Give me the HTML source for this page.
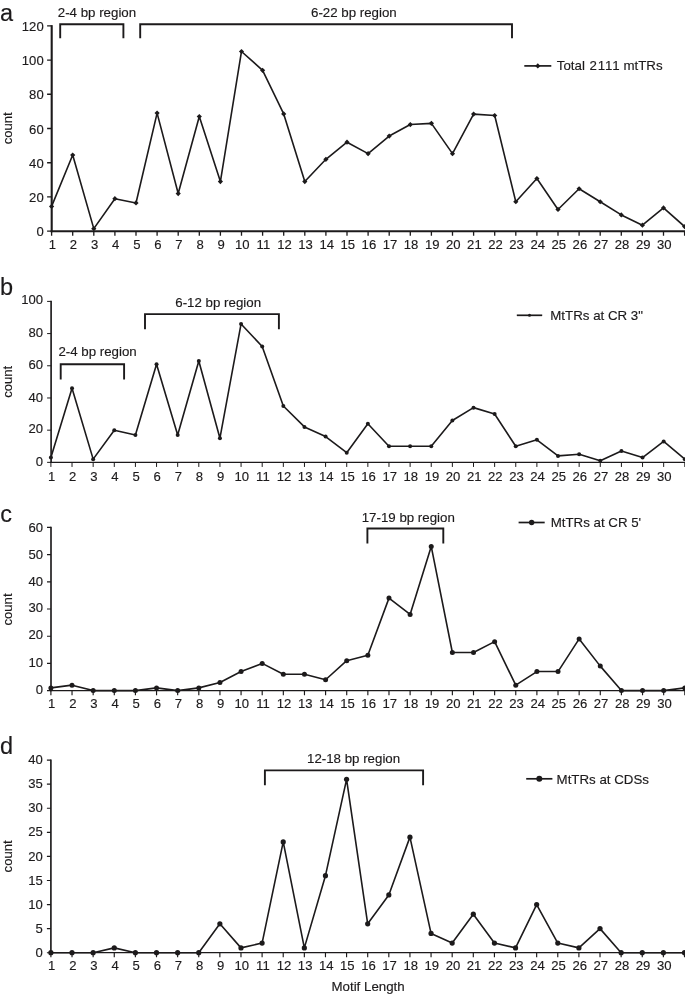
<!DOCTYPE html>
<html><head><meta charset="utf-8"><title>Motif length distribution</title>
<style>
html,body{margin:0;padding:0;background:#fff;}
body{width:685px;height:994px;overflow:hidden;}
svg{display:block;}
svg text{font-family:"Liberation Sans",Arial,Helvetica,sans-serif;font-size:13.3px;fill:#1c1a1b;stroke:#1c1a1b;stroke-width:0.15px;}
svg text.t{font-size:var(--t);}
svg text.x{font-size:13.1px;}
</style></head>
<body>
<svg width="685" height="994" viewBox="0 0 685 994">
<rect width="685" height="994" fill="#fff"/>
<g style="--t:13.1px">
<path d="M51.7 25.15V232.2" fill="none" stroke="#1c1a1b" stroke-width="2.1"/>
<path d="M50.65 231.2H685" fill="none" stroke="#1c1a1b" stroke-width="2.0"/>
<text class="t" x="43.7" y="236.2" text-anchor="end">0</text>
<text class="t" x="43.7" y="201.97" text-anchor="end">20</text>
<text class="t" x="43.7" y="167.73" text-anchor="end">40</text>
<text class="t" x="43.7" y="133.5" text-anchor="end">60</text>
<text class="t" x="43.7" y="99.27" text-anchor="end">80</text>
<text class="t" x="43.7" y="65.03" text-anchor="end">100</text>
<text class="t" x="43.7" y="30.8" text-anchor="end">120</text>
<text x="52.4" y="248.9" class="x" text-anchor="middle">1</text>
<text x="73.5" y="248.9" class="x" text-anchor="middle">2</text>
<text x="94.6" y="248.9" class="x" text-anchor="middle">3</text>
<text x="115.7" y="248.9" class="x" text-anchor="middle">4</text>
<text x="136.8" y="248.9" class="x" text-anchor="middle">5</text>
<text x="157.9" y="248.9" class="x" text-anchor="middle">6</text>
<text x="179" y="248.9" class="x" text-anchor="middle">7</text>
<text x="200.1" y="248.9" class="x" text-anchor="middle">8</text>
<text x="221.2" y="248.9" class="x" text-anchor="middle">9</text>
<text x="242.3" y="248.9" class="x" text-anchor="middle">10</text>
<text x="263.4" y="248.9" class="x" text-anchor="middle">11</text>
<text x="284.5" y="248.9" class="x" text-anchor="middle">12</text>
<text x="305.6" y="248.9" class="x" text-anchor="middle">13</text>
<text x="326.7" y="248.9" class="x" text-anchor="middle">14</text>
<text x="347.8" y="248.9" class="x" text-anchor="middle">15</text>
<text x="368.9" y="248.9" class="x" text-anchor="middle">16</text>
<text x="390" y="248.9" class="x" text-anchor="middle">17</text>
<text x="411.1" y="248.9" class="x" text-anchor="middle">18</text>
<text x="432.2" y="248.9" class="x" text-anchor="middle">19</text>
<text x="453.3" y="248.9" class="x" text-anchor="middle">20</text>
<text x="474.4" y="248.9" class="x" text-anchor="middle">21</text>
<text x="495.5" y="248.9" class="x" text-anchor="middle">22</text>
<text x="516.6" y="248.9" class="x" text-anchor="middle">23</text>
<text x="537.7" y="248.9" class="x" text-anchor="middle">24</text>
<text x="558.8" y="248.9" class="x" text-anchor="middle">25</text>
<text x="579.9" y="248.9" class="x" text-anchor="middle">26</text>
<text x="601" y="248.9" class="x" text-anchor="middle">27</text>
<text x="622.1" y="248.9" class="x" text-anchor="middle">28</text>
<text x="643.2" y="248.9" class="x" text-anchor="middle">29</text>
<text x="664.3" y="248.9" class="x" text-anchor="middle">30</text>
<path d="M47.1 231.2H51.7M47.1 196.97H51.7M47.1 162.73H51.7M47.1 128.5H51.7M47.1 94.27H51.7M47.1 60.03H51.7M47.1 25.8H51.7M51.6 231.2V235.8M72.7 231.2V235.8M93.8 231.2V235.8M114.9 231.2V235.8M136 231.2V235.8M157.1 231.2V235.8M178.2 231.2V235.8M199.3 231.2V235.8M220.4 231.2V235.8M241.5 231.2V235.8M262.6 231.2V235.8M283.7 231.2V235.8M304.8 231.2V235.8M325.9 231.2V235.8M347 231.2V235.8M368.1 231.2V235.8M389.2 231.2V235.8M410.3 231.2V235.8M431.4 231.2V235.8M452.5 231.2V235.8M473.6 231.2V235.8M494.7 231.2V235.8M515.8 231.2V235.8M536.9 231.2V235.8M558 231.2V235.8M579.1 231.2V235.8M600.2 231.2V235.8M621.3 231.2V235.8M642.4 231.2V235.8M663.5 231.2V235.8M684.6 231.2V235.8" fill="none" stroke="#1c1a1b" stroke-width="1.3"/>
<polyline fill="none" stroke="#1c1a1b" stroke-width="1.6" stroke-linejoin="round" points="51.6,206.38 72.7,155.03 93.8,228.63 114.9,198.68 136,202.96 157.1,113.09 178.2,193.54 199.3,116.52 220.4,181.56 241.5,51.48 262.6,70.3 283.7,113.95 304.8,181.56 325.9,159.31 347,142.19 368.1,153.66 389.2,136.03 410.3,124.56 431.4,123.37 452.5,153.66 473.6,114.12 494.7,115.49 515.8,201.76 536.9,178.48 558,209.46 579.1,188.75 600.2,201.76 621.3,214.94 642.4,225.21 663.5,207.92 684.6,226.58"/>
<g fill="#1c1a1b"><path d="M51.6 203.78L54.2 206.38L51.6 208.98L49 206.38Z"/><path d="M72.7 152.43L75.3 155.03L72.7 157.63L70.1 155.03Z"/><path d="M93.8 226.03L96.4 228.63L93.8 231.23L91.2 228.63Z"/><path d="M114.9 196.08L117.5 198.68L114.9 201.28L112.3 198.68Z"/><path d="M136 200.36L138.6 202.96L136 205.56L133.4 202.96Z"/><path d="M157.1 110.5L159.7 113.09L157.1 115.69L154.5 113.09Z"/><path d="M178.2 190.94L180.8 193.54L178.2 196.14L175.6 193.54Z"/><path d="M199.3 113.92L201.9 116.52L199.3 119.12L196.7 116.52Z"/><path d="M220.4 178.96L223 181.56L220.4 184.16L217.8 181.56Z"/><path d="M241.5 48.88L244.1 51.48L241.5 54.08L238.9 51.48Z"/><path d="M262.6 67.7L265.2 70.3L262.6 72.9L260 70.3Z"/><path d="M283.7 111.35L286.3 113.95L283.7 116.55L281.1 113.95Z"/><path d="M304.8 178.96L307.4 181.56L304.8 184.16L302.2 181.56Z"/><path d="M325.9 156.71L328.5 159.31L325.9 161.91L323.3 159.31Z"/><path d="M347 139.59L349.6 142.19L347 144.79L344.4 142.19Z"/><path d="M368.1 151.06L370.7 153.66L368.1 156.26L365.5 153.66Z"/><path d="M389.2 133.43L391.8 136.03L389.2 138.63L386.6 136.03Z"/><path d="M410.3 121.96L412.9 124.56L410.3 127.16L407.7 124.56Z"/><path d="M431.4 120.77L434 123.37L431.4 125.97L428.8 123.37Z"/><path d="M452.5 151.06L455.1 153.66L452.5 156.26L449.9 153.66Z"/><path d="M473.6 111.52L476.2 114.12L473.6 116.72L471 114.12Z"/><path d="M494.7 112.89L497.3 115.49L494.7 118.09L492.1 115.49Z"/><path d="M515.8 199.16L518.4 201.76L515.8 204.36L513.2 201.76Z"/><path d="M536.9 175.88L539.5 178.48L536.9 181.08L534.3 178.48Z"/><path d="M558 206.86L560.6 209.46L558 212.06L555.4 209.46Z"/><path d="M579.1 186.15L581.7 188.75L579.1 191.35L576.5 188.75Z"/><path d="M600.2 199.16L602.8 201.76L600.2 204.36L597.6 201.76Z"/><path d="M621.3 212.34L623.9 214.94L621.3 217.54L618.7 214.94Z"/><path d="M642.4 222.61L645 225.21L642.4 227.81L639.8 225.21Z"/><path d="M663.5 205.32L666.1 207.92L663.5 210.52L660.9 207.92Z"/><path d="M684.6 223.98L687.2 226.58L684.6 229.18L682 226.58Z"/></g>
<path d="M60.2 38.3V24.2H123.4V38.3" fill="none" stroke="#1c1a1b" stroke-width="1.9"/>
<text x="57.8" y="17.2">2-4 bp region</text>
<path d="M140.2 38.3V24.2H512V38.3" fill="none" stroke="#1c1a1b" stroke-width="1.9"/>
<text x="311" y="17.2">6-22 bp region</text>
<path d="M524.3 65.9H551.3" stroke="#1c1a1b" stroke-width="1.7"/>
<g fill="#1c1a1b"><path d="M537.8 63.3L540.4 65.9L537.8 68.5L535.2 65.9Z"/></g>
<text x="556.8" y="70.1">Total <tspan dx="0.9" letter-spacing="0.85">2111</tspan><tspan dx="-0.8"> mtTRs</tspan></text>
<text transform="translate(11.8 128.3) rotate(-90)" text-anchor="middle" style="font-size:13.1px">count</text>
<text x="0" y="21.3" style="font-size:23.5px">a</text>
</g>
<g style="--t:13.1px">
<path d="M51.1 300.75V462.88" fill="none" stroke="#1c1a1b" stroke-width="1.65"/>
<path d="M50.27 462.35H685" fill="none" stroke="#1c1a1b" stroke-width="1.05"/>
<text class="t" x="43.1" y="466.05" text-anchor="end">0</text>
<text class="t" x="43.1" y="433.46" text-anchor="end">20</text>
<text class="t" x="43.1" y="401.97" text-anchor="end">40</text>
<text class="t" x="43.1" y="368.88" text-anchor="end">60</text>
<text class="t" x="43.1" y="336.59" text-anchor="end">80</text>
<text class="t" x="43.1" y="303.9" text-anchor="end">100</text>
<text x="51.6" y="480.55" class="x" text-anchor="middle">1</text>
<text x="72.73" y="480.55" class="x" text-anchor="middle">2</text>
<text x="93.86" y="480.55" class="x" text-anchor="middle">3</text>
<text x="114.99" y="480.55" class="x" text-anchor="middle">4</text>
<text x="136.12" y="480.55" class="x" text-anchor="middle">5</text>
<text x="157.25" y="480.55" class="x" text-anchor="middle">6</text>
<text x="178.38" y="480.55" class="x" text-anchor="middle">7</text>
<text x="199.51" y="480.55" class="x" text-anchor="middle">8</text>
<text x="220.64" y="480.55" class="x" text-anchor="middle">9</text>
<text x="241.77" y="480.55" class="x" text-anchor="middle">10</text>
<text x="262.9" y="480.55" class="x" text-anchor="middle">11</text>
<text x="284.03" y="480.55" class="x" text-anchor="middle">12</text>
<text x="305.16" y="480.55" class="x" text-anchor="middle">13</text>
<text x="326.29" y="480.55" class="x" text-anchor="middle">14</text>
<text x="347.42" y="480.55" class="x" text-anchor="middle">15</text>
<text x="368.55" y="480.55" class="x" text-anchor="middle">16</text>
<text x="389.68" y="480.55" class="x" text-anchor="middle">17</text>
<text x="410.81" y="480.55" class="x" text-anchor="middle">18</text>
<text x="431.94" y="480.55" class="x" text-anchor="middle">19</text>
<text x="453.07" y="480.55" class="x" text-anchor="middle">20</text>
<text x="474.2" y="480.55" class="x" text-anchor="middle">21</text>
<text x="495.33" y="480.55" class="x" text-anchor="middle">22</text>
<text x="516.46" y="480.55" class="x" text-anchor="middle">23</text>
<text x="537.59" y="480.55" class="x" text-anchor="middle">24</text>
<text x="558.72" y="480.55" class="x" text-anchor="middle">25</text>
<text x="579.85" y="480.55" class="x" text-anchor="middle">26</text>
<text x="600.98" y="480.55" class="x" text-anchor="middle">27</text>
<text x="622.11" y="480.55" class="x" text-anchor="middle">28</text>
<text x="643.24" y="480.55" class="x" text-anchor="middle">29</text>
<text x="664.37" y="480.55" class="x" text-anchor="middle">30</text>
<path d="M47.1 462.35H51.1M47.1 430.16H51.1M47.1 397.97H51.1M47.1 365.78H51.1M47.1 333.59H51.1M47.1 301.4H51.1M50.9 462.35V466.95M72.03 462.35V466.95M93.16 462.35V466.95M114.29 462.35V466.95M135.42 462.35V466.95M156.55 462.35V466.95M177.68 462.35V466.95M198.81 462.35V466.95M219.94 462.35V466.95M241.07 462.35V466.95M262.2 462.35V466.95M283.33 462.35V466.95M304.46 462.35V466.95M325.59 462.35V466.95M346.72 462.35V466.95M367.85 462.35V466.95M388.98 462.35V466.95M410.11 462.35V466.95M431.24 462.35V466.95M452.37 462.35V466.95M473.5 462.35V466.95M494.63 462.35V466.95M515.76 462.35V466.95M536.89 462.35V466.95M558.02 462.35V466.95M579.15 462.35V466.95M600.28 462.35V466.95M621.41 462.35V466.95M642.54 462.35V466.95M663.67 462.35V466.95M684.8 462.35V466.95" fill="none" stroke="#1c1a1b" stroke-width="1.0"/>
<polyline fill="none" stroke="#1c1a1b" stroke-width="1.6" stroke-linejoin="round" points="50.9,457.52 72.03,388.31 93.16,459.13 114.29,430.16 135.42,434.99 156.55,364.17 177.68,434.99 198.81,360.95 219.94,438.21 241.07,323.93 262.2,346.47 283.33,406.02 304.46,426.94 325.59,436.6 346.72,452.69 367.85,423.72 388.98,446.25 410.11,446.25 431.24,446.25 452.37,420.5 473.5,407.63 494.63,414.06 515.76,446.25 536.89,439.82 558.02,455.91 579.15,454.3 600.28,460.74 621.41,451.08 642.54,457.52 663.67,441.43 684.8,459.13"/>
<g fill="#1c1a1b"><circle cx="50.9" cy="457.52" r="2.0"/><circle cx="72.03" cy="388.31" r="2.0"/><circle cx="93.16" cy="459.13" r="2.0"/><circle cx="114.29" cy="430.16" r="2.0"/><circle cx="135.42" cy="434.99" r="2.0"/><circle cx="156.55" cy="364.17" r="2.0"/><circle cx="177.68" cy="434.99" r="2.0"/><circle cx="198.81" cy="360.95" r="2.0"/><circle cx="219.94" cy="438.21" r="2.0"/><circle cx="241.07" cy="323.93" r="2.0"/><circle cx="262.2" cy="346.47" r="2.0"/><circle cx="283.33" cy="406.02" r="2.0"/><circle cx="304.46" cy="426.94" r="2.0"/><circle cx="325.59" cy="436.6" r="2.0"/><circle cx="346.72" cy="452.69" r="2.0"/><circle cx="367.85" cy="423.72" r="2.0"/><circle cx="388.98" cy="446.25" r="2.0"/><circle cx="410.11" cy="446.25" r="2.0"/><circle cx="431.24" cy="446.25" r="2.0"/><circle cx="452.37" cy="420.5" r="2.0"/><circle cx="473.5" cy="407.63" r="2.0"/><circle cx="494.63" cy="414.06" r="2.0"/><circle cx="515.76" cy="446.25" r="2.0"/><circle cx="536.89" cy="439.82" r="2.0"/><circle cx="558.02" cy="455.91" r="2.0"/><circle cx="579.15" cy="454.3" r="2.0"/><circle cx="600.28" cy="460.74" r="2.0"/><circle cx="621.41" cy="451.08" r="2.0"/><circle cx="642.54" cy="457.52" r="2.0"/><circle cx="663.67" cy="441.43" r="2.0"/><circle cx="684.8" cy="459.13" r="2.0"/></g>
<path d="M60.7 379.4V364.3H124.1V379.4" fill="none" stroke="#1c1a1b" stroke-width="1.9"/>
<text x="58.4" y="356.4">2-4 bp region</text>
<path d="M145 329.2V314.1H278.9V329.2" fill="none" stroke="#1c1a1b" stroke-width="1.9"/>
<text x="175.3" y="307.2">6-12 bp region</text>
<path d="M516.8 315.3H542.2" stroke="#1c1a1b" stroke-width="1.7"/>
<g fill="#1c1a1b"><circle cx="529.5" cy="315.3" r="1.5"/></g>
<text x="550.3" y="319.9">MtTRs at CR 3&quot;</text>
<text transform="translate(11.8 381.8) rotate(-90)" text-anchor="middle" style="font-size:13.1px">count</text>
<text x="0" y="294.6" style="font-size:23.5px">b</text>
</g>
<g style="--t:13.1px">
<path d="M51 526.75V691.23" fill="none" stroke="#1c1a1b" stroke-width="1.65"/>
<path d="M50.17 690.6H685" fill="none" stroke="#1c1a1b" stroke-width="1.25"/>
<text class="t" x="43" y="693.8" text-anchor="end">0</text>
<text class="t" x="43" y="666.8" text-anchor="end">10</text>
<text class="t" x="43" y="639.2" text-anchor="end">20</text>
<text class="t" x="43" y="612.3" text-anchor="end">30</text>
<text class="t" x="43" y="585.5" text-anchor="end">40</text>
<text class="t" x="43" y="558.8" text-anchor="end">50</text>
<text class="t" x="43" y="532" text-anchor="end">60</text>
<text x="51.7" y="708.2" class="x" text-anchor="middle">1</text>
<text x="72.83" y="708.2" class="x" text-anchor="middle">2</text>
<text x="93.96" y="708.2" class="x" text-anchor="middle">3</text>
<text x="115.09" y="708.2" class="x" text-anchor="middle">4</text>
<text x="136.22" y="708.2" class="x" text-anchor="middle">5</text>
<text x="157.35" y="708.2" class="x" text-anchor="middle">6</text>
<text x="178.48" y="708.2" class="x" text-anchor="middle">7</text>
<text x="199.61" y="708.2" class="x" text-anchor="middle">8</text>
<text x="220.74" y="708.2" class="x" text-anchor="middle">9</text>
<text x="241.87" y="708.2" class="x" text-anchor="middle">10</text>
<text x="263" y="708.2" class="x" text-anchor="middle">11</text>
<text x="284.13" y="708.2" class="x" text-anchor="middle">12</text>
<text x="305.26" y="708.2" class="x" text-anchor="middle">13</text>
<text x="326.39" y="708.2" class="x" text-anchor="middle">14</text>
<text x="347.52" y="708.2" class="x" text-anchor="middle">15</text>
<text x="368.65" y="708.2" class="x" text-anchor="middle">16</text>
<text x="389.78" y="708.2" class="x" text-anchor="middle">17</text>
<text x="410.91" y="708.2" class="x" text-anchor="middle">18</text>
<text x="432.04" y="708.2" class="x" text-anchor="middle">19</text>
<text x="453.17" y="708.2" class="x" text-anchor="middle">20</text>
<text x="474.3" y="708.2" class="x" text-anchor="middle">21</text>
<text x="495.43" y="708.2" class="x" text-anchor="middle">22</text>
<text x="516.56" y="708.2" class="x" text-anchor="middle">23</text>
<text x="537.69" y="708.2" class="x" text-anchor="middle">24</text>
<text x="558.82" y="708.2" class="x" text-anchor="middle">25</text>
<text x="579.95" y="708.2" class="x" text-anchor="middle">26</text>
<text x="601.08" y="708.2" class="x" text-anchor="middle">27</text>
<text x="622.21" y="708.2" class="x" text-anchor="middle">28</text>
<text x="643.34" y="708.2" class="x" text-anchor="middle">29</text>
<text x="664.47" y="708.2" class="x" text-anchor="middle">30</text>
<path d="M47 690.6H51M47 663.4H51M47 636.2H51M47 609H51M47 581.8H51M47 554.6H51M47 527.4H51M50.9 690.6V695.2M72.03 690.6V695.2M93.16 690.6V695.2M114.29 690.6V695.2M135.42 690.6V695.2M156.55 690.6V695.2M177.68 690.6V695.2M198.81 690.6V695.2M219.94 690.6V695.2M241.07 690.6V695.2M262.2 690.6V695.2M283.33 690.6V695.2M304.46 690.6V695.2M325.59 690.6V695.2M346.72 690.6V695.2M367.85 690.6V695.2M388.98 690.6V695.2M410.11 690.6V695.2M431.24 690.6V695.2M452.37 690.6V695.2M473.5 690.6V695.2M494.63 690.6V695.2M515.76 690.6V695.2M536.89 690.6V695.2M558.02 690.6V695.2M579.15 690.6V695.2M600.28 690.6V695.2M621.41 690.6V695.2M642.54 690.6V695.2M663.67 690.6V695.2M684.8 690.6V695.2" fill="none" stroke="#1c1a1b" stroke-width="1.15"/>
<polyline fill="none" stroke="#1c1a1b" stroke-width="1.6" stroke-linejoin="round" points="50.9,687.88 72.03,685.16 93.16,690.6 114.29,690.6 135.42,690.6 156.55,687.88 177.68,690.6 198.81,687.88 219.94,682.44 241.07,671.56 262.2,663.4 283.33,674.28 304.46,674.28 325.59,679.72 346.72,660.68 367.85,655.24 388.98,598.12 410.11,614.44 431.24,546.44 452.37,652.52 473.5,652.52 494.63,641.64 515.76,685.16 536.89,671.56 558.02,671.56 579.15,638.92 600.28,666.12 621.41,690.6 642.54,690.6 663.67,690.6 684.8,687.88"/>
<g fill="#1c1a1b"><circle cx="50.9" cy="687.88" r="2.5"/><circle cx="72.03" cy="685.16" r="2.5"/><circle cx="93.16" cy="690.6" r="2.5"/><circle cx="114.29" cy="690.6" r="2.5"/><circle cx="135.42" cy="690.6" r="2.5"/><circle cx="156.55" cy="687.88" r="2.5"/><circle cx="177.68" cy="690.6" r="2.5"/><circle cx="198.81" cy="687.88" r="2.5"/><circle cx="219.94" cy="682.44" r="2.5"/><circle cx="241.07" cy="671.56" r="2.5"/><circle cx="262.2" cy="663.4" r="2.5"/><circle cx="283.33" cy="674.28" r="2.5"/><circle cx="304.46" cy="674.28" r="2.5"/><circle cx="325.59" cy="679.72" r="2.5"/><circle cx="346.72" cy="660.68" r="2.5"/><circle cx="367.85" cy="655.24" r="2.5"/><circle cx="388.98" cy="598.12" r="2.5"/><circle cx="410.11" cy="614.44" r="2.5"/><circle cx="431.24" cy="546.44" r="2.5"/><circle cx="452.37" cy="652.52" r="2.5"/><circle cx="473.5" cy="652.52" r="2.5"/><circle cx="494.63" cy="641.64" r="2.5"/><circle cx="515.76" cy="685.16" r="2.5"/><circle cx="536.89" cy="671.56" r="2.5"/><circle cx="558.02" cy="671.56" r="2.5"/><circle cx="579.15" cy="638.92" r="2.5"/><circle cx="600.28" cy="666.12" r="2.5"/><circle cx="621.41" cy="690.6" r="2.5"/><circle cx="642.54" cy="690.6" r="2.5"/><circle cx="663.67" cy="690.6" r="2.5"/><circle cx="684.8" cy="687.88" r="2.5"/></g>
<path d="M367.4 543.6V528.5H443.3V543.6" fill="none" stroke="#1c1a1b" stroke-width="1.9"/>
<text x="361.7" y="521.6">17-19 bp region</text>
<path d="M518.6 522.5H544.7" stroke="#1c1a1b" stroke-width="1.7"/>
<g fill="#1c1a1b"><circle cx="531.65" cy="522.5" r="2.7"/></g>
<text x="550.7" y="526.8">MtTRs at CR 5'</text>
<text transform="translate(11.8 609.5) rotate(-90)" text-anchor="middle" style="font-size:13.1px">count</text>
<text x="0.3" y="522.2" style="font-size:23.5px">c</text>
</g>
<g style="--t:13.1px">
<path d="M50.9 759.45V953.33" fill="none" stroke="#1c1a1b" stroke-width="1.65"/>
<path d="M50.07 952.7H685" fill="none" stroke="#1c1a1b" stroke-width="1.25"/>
<text class="t" x="42.9" y="957.2" text-anchor="end">0</text>
<text class="t" x="42.9" y="933.05" text-anchor="end">5</text>
<text class="t" x="42.9" y="908.9" text-anchor="end">10</text>
<text class="t" x="42.9" y="884.75" text-anchor="end">15</text>
<text class="t" x="42.9" y="860.6" text-anchor="end">20</text>
<text class="t" x="42.9" y="836.45" text-anchor="end">25</text>
<text class="t" x="42.9" y="812.3" text-anchor="end">30</text>
<text class="t" x="42.9" y="788.15" text-anchor="end">35</text>
<text class="t" x="42.9" y="764" text-anchor="end">40</text>
<text x="51.7" y="970.1" class="x" text-anchor="middle">1</text>
<text x="72.82" y="970.1" class="x" text-anchor="middle">2</text>
<text x="93.94" y="970.1" class="x" text-anchor="middle">3</text>
<text x="115.06" y="970.1" class="x" text-anchor="middle">4</text>
<text x="136.18" y="970.1" class="x" text-anchor="middle">5</text>
<text x="157.3" y="970.1" class="x" text-anchor="middle">6</text>
<text x="178.42" y="970.1" class="x" text-anchor="middle">7</text>
<text x="199.54" y="970.1" class="x" text-anchor="middle">8</text>
<text x="220.66" y="970.1" class="x" text-anchor="middle">9</text>
<text x="241.78" y="970.1" class="x" text-anchor="middle">10</text>
<text x="262.9" y="970.1" class="x" text-anchor="middle">11</text>
<text x="284.02" y="970.1" class="x" text-anchor="middle">12</text>
<text x="305.14" y="970.1" class="x" text-anchor="middle">13</text>
<text x="326.26" y="970.1" class="x" text-anchor="middle">14</text>
<text x="347.38" y="970.1" class="x" text-anchor="middle">15</text>
<text x="368.5" y="970.1" class="x" text-anchor="middle">16</text>
<text x="389.62" y="970.1" class="x" text-anchor="middle">17</text>
<text x="410.74" y="970.1" class="x" text-anchor="middle">18</text>
<text x="431.86" y="970.1" class="x" text-anchor="middle">19</text>
<text x="452.98" y="970.1" class="x" text-anchor="middle">20</text>
<text x="474.1" y="970.1" class="x" text-anchor="middle">21</text>
<text x="495.22" y="970.1" class="x" text-anchor="middle">22</text>
<text x="516.34" y="970.1" class="x" text-anchor="middle">23</text>
<text x="537.46" y="970.1" class="x" text-anchor="middle">24</text>
<text x="558.58" y="970.1" class="x" text-anchor="middle">25</text>
<text x="579.7" y="970.1" class="x" text-anchor="middle">26</text>
<text x="600.82" y="970.1" class="x" text-anchor="middle">27</text>
<text x="621.94" y="970.1" class="x" text-anchor="middle">28</text>
<text x="643.06" y="970.1" class="x" text-anchor="middle">29</text>
<text x="664.18" y="970.1" class="x" text-anchor="middle">30</text>
<path d="M46.9 952.7H50.9M46.9 928.62H50.9M46.9 904.55H50.9M46.9 880.48H50.9M46.9 856.4H50.9M46.9 832.33H50.9M46.9 808.25H50.9M46.9 784.18H50.9M46.9 760.1H50.9M50.9 952.7V957.3M72.02 952.7V957.3M93.14 952.7V957.3M114.26 952.7V957.3M135.38 952.7V957.3M156.5 952.7V957.3M177.62 952.7V957.3M198.74 952.7V957.3M219.86 952.7V957.3M240.98 952.7V957.3M262.1 952.7V957.3M283.22 952.7V957.3M304.34 952.7V957.3M325.46 952.7V957.3M346.58 952.7V957.3M367.7 952.7V957.3M388.82 952.7V957.3M409.94 952.7V957.3M431.06 952.7V957.3M452.18 952.7V957.3M473.3 952.7V957.3M494.42 952.7V957.3M515.54 952.7V957.3M536.66 952.7V957.3M557.78 952.7V957.3M578.9 952.7V957.3M600.02 952.7V957.3M621.14 952.7V957.3M642.26 952.7V957.3M663.38 952.7V957.3M684.5 952.7V957.3" fill="none" stroke="#1c1a1b" stroke-width="1.15"/>
<polyline fill="none" stroke="#1c1a1b" stroke-width="1.6" stroke-linejoin="round" points="50.9,952.7 72.02,952.7 93.14,952.7 114.26,947.88 135.38,952.7 156.5,952.7 177.62,952.7 198.74,952.7 219.86,923.81 240.98,947.88 262.1,943.07 283.22,841.96 304.34,947.88 325.46,875.66 346.58,779.36 367.7,923.81 388.82,894.92 409.94,837.14 431.06,933.44 452.18,943.07 473.3,914.18 494.42,943.07 515.54,947.88 536.66,904.55 557.78,943.07 578.9,947.88 600.02,928.62 621.14,952.7 642.26,952.7 663.38,952.7 684.5,952.7"/>
<g fill="#1c1a1b"><circle cx="50.9" cy="952.7" r="2.6"/><circle cx="72.02" cy="952.7" r="2.6"/><circle cx="93.14" cy="952.7" r="2.6"/><circle cx="114.26" cy="947.88" r="2.6"/><circle cx="135.38" cy="952.7" r="2.6"/><circle cx="156.5" cy="952.7" r="2.6"/><circle cx="177.62" cy="952.7" r="2.6"/><circle cx="198.74" cy="952.7" r="2.6"/><circle cx="219.86" cy="923.81" r="2.6"/><circle cx="240.98" cy="947.88" r="2.6"/><circle cx="262.1" cy="943.07" r="2.6"/><circle cx="283.22" cy="841.96" r="2.6"/><circle cx="304.34" cy="947.88" r="2.6"/><circle cx="325.46" cy="875.66" r="2.6"/><circle cx="346.58" cy="779.36" r="2.6"/><circle cx="367.7" cy="923.81" r="2.6"/><circle cx="388.82" cy="894.92" r="2.6"/><circle cx="409.94" cy="837.14" r="2.6"/><circle cx="431.06" cy="933.44" r="2.6"/><circle cx="452.18" cy="943.07" r="2.6"/><circle cx="473.3" cy="914.18" r="2.6"/><circle cx="494.42" cy="943.07" r="2.6"/><circle cx="515.54" cy="947.88" r="2.6"/><circle cx="536.66" cy="904.55" r="2.6"/><circle cx="557.78" cy="943.07" r="2.6"/><circle cx="578.9" cy="947.88" r="2.6"/><circle cx="600.02" cy="928.62" r="2.6"/><circle cx="621.14" cy="952.7" r="2.6"/><circle cx="642.26" cy="952.7" r="2.6"/><circle cx="663.38" cy="952.7" r="2.6"/><circle cx="684.5" cy="952.7" r="2.6"/></g>
<path d="M264.9 785.2V770.4H423.1V785.2" fill="none" stroke="#1c1a1b" stroke-width="1.9"/>
<text x="307" y="762.8">12-18 bp region</text>
<path d="M526.2 778.8H552.4" stroke="#1c1a1b" stroke-width="1.7"/>
<g fill="#1c1a1b"><circle cx="539.3" cy="778.8" r="3.0"/></g>
<text x="556.6" y="784.3">MtTRs at CDSs</text>
<text transform="translate(11.8 856.4) rotate(-90)" text-anchor="middle" style="font-size:13.1px">count</text>
<text x="0" y="754" style="font-size:23.5px">d</text>
</g>
<text x="331.5" y="990.7">Motif Length</text>
</svg>
</body></html>
